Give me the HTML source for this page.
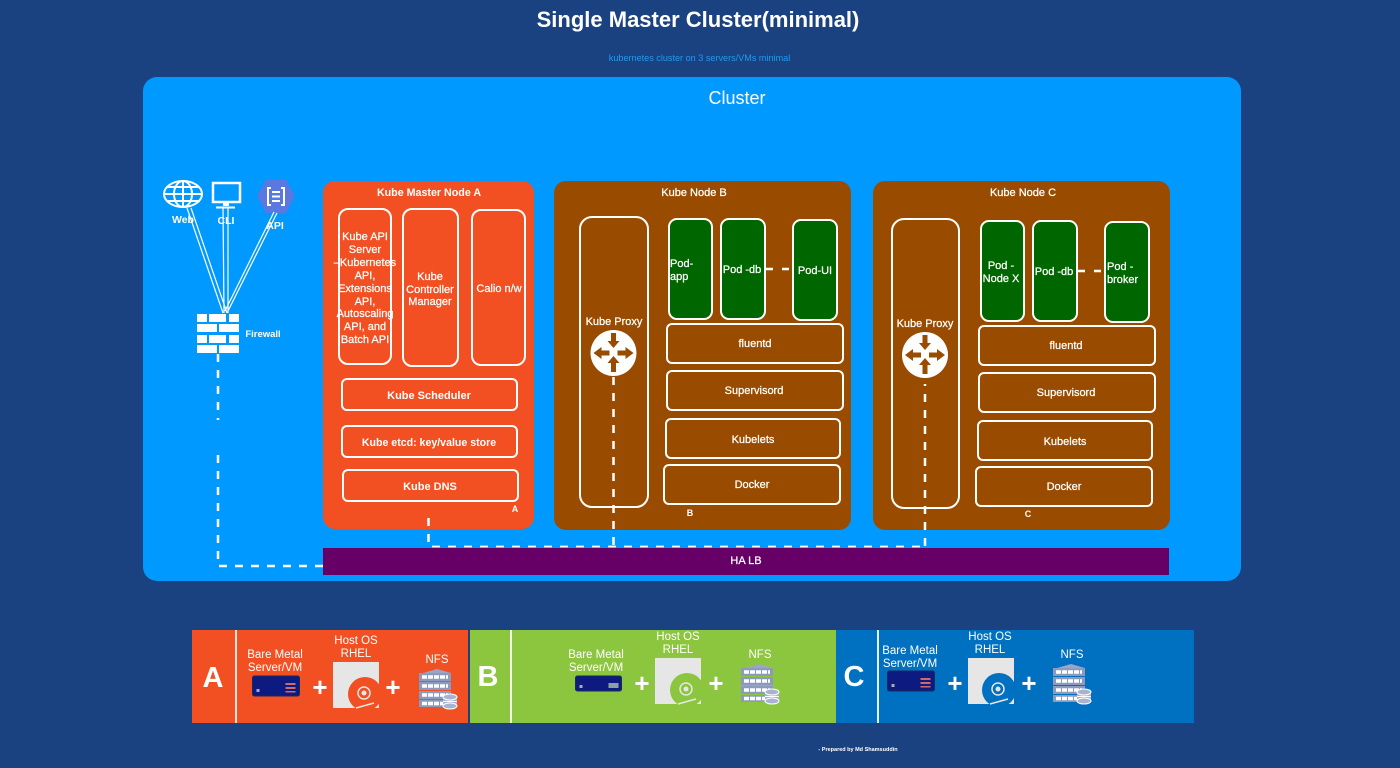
<!DOCTYPE html>
<html><head><meta charset="utf-8"><style>
html,body{margin:0;padding:0;background:#1a4280;width:1400px;height:768px;overflow:hidden}
svg{display:block}
text{font-family:"Liberation Sans",sans-serif;fill:#fff;text-anchor:middle}
.b{font-weight:bold}
.t{font-size:11px;stroke:#fff;stroke-width:.25}
.tb{font-size:11px;font-weight:bold}
.lg{font-size:11.5px}
.box{fill:none;stroke:#fff;stroke-width:2}
.dash{fill:none;stroke:#fff;stroke-width:2.500;stroke-dasharray:8 8}
.pd{fill:none;stroke:#fff;stroke-width:2.500;stroke-dasharray:7 9}
.thin{fill:none;stroke:#fff;stroke-width:1.800;stroke-dasharray:8 8}
.pod{fill:#006600;stroke:#fff;stroke-width:2}
</style></head><body>
<svg width="1400" height="768" viewBox="0 0 1400 768" xmlns="http://www.w3.org/2000/svg">
<defs>
<g id="router"><circle r="23" fill="#fff"/>
<g fill="#994c00"><path d="M-2.500 -20h5v8h3.500l-6 7l-6 -7h3.500z"/><path d="M-2.500 19h5v-9h3.500l-6 -7l-6 7h3.500z"/><path d="M-20 0l8 -6v3.500h8v5h-8v3.500z"/><path d="M20 0l-8 -6v3.500h-8v5h8v3.500z"/></g></g>
<g id="server"><rect x="0" y="0" width="47" height="20" rx="2" fill="#0d1a80" stroke="#1a2a5a"/><rect x="4" y="13" width="3" height="3" fill="#aab"/><rect x="33" y="7" width="10" height="2" fill="#d06a6a"/><rect x="33" y="11" width="10" height="2" fill="#d06a6a"/><rect x="33" y="15" width="10" height="1.500" fill="#d06a6a"/></g>
<g id="serverb"><rect x="0" y="0" width="46" height="15" rx="2" fill="#0d1a80" stroke="#1a2a5a"/><rect x="4" y="9" width="3" height="3" fill="#aab"/><rect x="33" y="7" width="10" height="5" fill="#8ca0a0"/></g>
<g id="nfs"><path d="M4 4l14 -4l14 4z" fill="#9aa6c4"/><rect x="0" y="4" width="32" height="8" fill="#8d9abb"/><rect x="0" y="13" width="32" height="8" fill="#8d9abb"/><rect x="0" y="22" width="32" height="8" fill="#8d9abb"/><rect x="0" y="31" width="32" height="7" fill="#8d9abb"/>
<g stroke="#fff" stroke-width="3.500" stroke-dasharray="5 1"><path d="M3 8h26M3 17h26M3 26h26M3 34.500h26"/></g>
<rect x="24" y="28" width="14" height="9" fill="#a8b3cf"/><ellipse cx="31" cy="28" rx="7" ry="3" fill="#a8b3cf" stroke="#fff"/><ellipse cx="31" cy="37" rx="7" ry="3" fill="#a8b3cf" stroke="#fff"/><path d="M24 32.500h14" stroke="#fff"/></g>
</defs>
<rect width="1400" height="768" fill="#1a4280"/>
<text x="698" y="27" font-size="22" class="b">Single Master Cluster(minimal)</text>
<text x="699.500" y="61" font-size="9.100" style="fill:#1e9bf0">kubernetes cluster on 3 servers/VMs minimal</text>
<rect x="143" y="77" width="1098" height="504" rx="14" fill="#0099ff"/>
<text x="737" y="104" font-size="18">Cluster</text>

<!-- icons -->
<g fill="none" stroke="#fff" stroke-width="2"><ellipse cx="183" cy="194" rx="19" ry="13"/><ellipse cx="183" cy="194" rx="9" ry="13"/><path d="M183 181v26M164 194h38M167 187h32M167 201h32"/></g>
<rect x="213" y="183" width="27" height="19" fill="none" stroke="#fff" stroke-width="2.500"/><path d="M226 203v3" stroke="#fff" stroke-width="6"/><path d="M216 207.500h19" stroke="#fff" stroke-width="2"/>
<path d="M257 196l9 -16h20l9 16l-9 17h-20z" fill="#5a78e0"/>
<path d="M271 188h-3v17h3M281 188h3v17h-3M272 192h8M272 196.500h8M272 201h8" fill="none" stroke="#fff" stroke-width="2"/>
<g stroke="#fff" stroke-width="1.200" fill="none">
<path d="M187 208L223 313M191 208L227 313M223 208L224 313M228 208V313M274 212L225 311M277 213L228 311"/>
</g>
<text x="183" y="223" font-size="10.500" class="b">Web</text>
<text x="226" y="224" font-size="10.500" class="b">CLI</text>
<text x="275" y="229" font-size="10.500" class="b">API</text>
<g fill="#fff"><rect x="197" y="314" width="10" height="8"/><rect x="209" y="314" width="17" height="8"/><rect x="229" y="314" width="10" height="8"/><rect x="197" y="324" width="20" height="8"/><rect x="219" y="324" width="20" height="8"/><rect x="197" y="335" width="10" height="8"/><rect x="209" y="335" width="17" height="8"/><rect x="229" y="335" width="10" height="8"/><rect x="197" y="345" width="20" height="8"/><rect x="219" y="345" width="20" height="8"/></g>
<text x="263" y="337" font-size="9.500" class="b">Firewall</text>

<!-- Master -->
<rect x="323" y="181" width="211" height="348" rx="12" fill="#f25022"/>
<text x="429" y="196" class="tb" style="font-size:10.700px">Kube Master Node A</text>
<rect class="box" x="339" y="209" width="52" height="155" rx="9"/>
<rect class="box" x="403" y="209" width="55" height="157" rx="9"/>
<rect class="box" x="472" y="210" width="53" height="155" rx="9"/>
<g class="t"><text x="365" y="240">Kube API</text><text x="365" y="253">Server</text><text x="365" y="266">–Kubernetes</text><text x="365" y="279">API,</text><text x="365" y="292">Extensions</text><text x="365" y="305">API,</text><text x="365" y="317">Autoscaling</text><text x="365" y="330">API, and</text><text x="365" y="343">Batch API</text>
<text x="430" y="280">Kube</text><text x="430" y="293">Controller</text><text x="430" y="305">Manager</text><text x="499" y="292">Calio n/w</text></g>
<rect class="box" x="342" y="379" width="175" height="31" rx="5"/><text x="429" y="399" class="tb">Kube Scheduler</text>
<rect class="box" x="342" y="426" width="175" height="31" rx="5"/><text x="429" y="446" class="tb" style="font-size:10.600px">Kube etcd: key/value store</text>
<rect class="box" x="343" y="470" width="175" height="31" rx="5"/><text x="430" y="490" class="tb">Kube DNS</text>
<text x="515" y="512" font-size="9" class="b">A</text>

<!-- Node B -->
<rect x="554" y="181" width="297" height="349" rx="12" fill="#994c00"/>
<text x="694" y="196" class="t">Kube Node B</text>
<rect class="box" x="580" y="217" width="68" height="290" rx="12"/>
<text x="614" y="325" class="t">Kube Proxy</text>
<use href="#router" x="613.500" y="353"/>
<rect class="pod" x="669" y="219" width="43" height="100" rx="8"/>
<rect class="pod" x="721" y="219" width="44" height="100" rx="8"/>
<rect class="pod" x="793" y="220" width="44" height="100" rx="8"/>
<path class="pd" d="M766 269h27"/>
<g class="t"><text x="670" y="267" style="text-anchor:start">Pod-</text><text x="670" y="280" style="text-anchor:start">app</text><text x="742" y="273">Pod -db</text><text x="815" y="274">Pod-UI</text></g>
<rect class="box" x="667" y="324" width="176" height="39" rx="5"/><text x="755" y="347" class="t">fluentd</text>
<rect class="box" x="667" y="371" width="176" height="39" rx="5"/><text x="754" y="394" class="t">Supervisord</text>
<rect class="box" x="666" y="419" width="174" height="39" rx="5"/><text x="753" y="443" class="t">Kubelets</text>
<rect class="box" x="664" y="465" width="176" height="39" rx="5"/><text x="752" y="488" class="t">Docker</text>
<text x="690" y="516" font-size="9" class="b">B</text>

<!-- Node C -->
<rect x="873" y="181" width="297" height="349" rx="12" fill="#994c00"/>
<text x="1023" y="196" class="t">Kube Node C</text>
<rect class="box" x="892" y="219" width="67" height="289" rx="12"/>
<text x="925" y="327" class="t">Kube Proxy</text>
<use href="#router" x="925" y="355"/>
<rect class="pod" x="981" y="221" width="43" height="100" rx="8"/>
<rect class="pod" x="1033" y="221" width="44" height="100" rx="8"/>
<rect class="pod" x="1105" y="222" width="44" height="100" rx="8"/>
<path class="pd" d="M1078 271h27"/>
<g class="t"><text x="1001" y="269">Pod -</text><text x="1001" y="282">Node X</text><text x="1054" y="275">Pod -db</text><text x="1107" y="270" style="text-anchor:start">Pod -</text><text x="1107" y="283" style="text-anchor:start">broker</text></g>
<rect class="box" x="979" y="326" width="176" height="39" rx="5"/><text x="1066" y="349" class="t">fluentd</text>
<rect class="box" x="979" y="373" width="176" height="39" rx="5"/><text x="1066" y="396" class="t">Supervisord</text>
<rect class="box" x="978" y="421" width="174" height="39" rx="5"/><text x="1065" y="445" class="t">Kubelets</text>
<rect class="box" x="976" y="467" width="176" height="39" rx="5"/><text x="1064" y="490" class="t">Docker</text>
<text x="1028" y="517" font-size="9" class="b">C</text>

<!-- HA LB -->
<rect x="323" y="548" width="846" height="27" fill="#660066"/>
<text x="746" y="564" class="t">HA LB</text>
<!-- connectors -->
<path class="dash" d="M218 354V420"/>
<path class="dash" d="M218 455V566H323"/>
<path class="dash" d="M428.500 518V545"/>
<path class="thin" d="M432 546.500H925"/>
<path class="dash" d="M925 546V384"/>
<path class="dash" d="M613.500 377V547"/>

<!-- legend -->
<rect x="192" y="630" width="276" height="93" fill="#f25022"/>
<rect x="470" y="630" width="366" height="93" fill="#8cc63f"/>
<rect x="836" y="630" width="358" height="93" fill="#0070c0"/>
<rect x="235" y="630" width="2" height="93" fill="#f5e5dc"/>
<rect x="510" y="630" width="2" height="93" fill="#f5f5e5"/>
<rect x="877" y="630" width="2" height="93" fill="#e5f0f8"/>
<text x="213" y="687" font-size="29" class="b">A</text>
<text x="488" y="686" font-size="29" class="b">B</text>
<text x="854" y="686" font-size="29" class="b">C</text>

<g class="lg"><text x="275" y="658">Bare Metal</text><text x="275" y="671">Server/VM</text><text x="356" y="644">Host OS</text><text x="356" y="657">RHEL</text><text x="437" y="663">NFS</text></g>
<use href="#server" x="252.500" y="676"/>
<rect x="333" y="662" width="46" height="46" fill="#e6e6e6"/><circle cx="365" cy="694" r="17" fill="#f25022"/><circle cx="364" cy="693" r="6" fill="none" stroke="#e6e6e6" stroke-width="1.500"/><circle cx="364" cy="693" r="2.500" fill="#e6e6e6"/><path d="M356 708l18 -5" stroke="#e6e6e6" stroke-width="1.500"/>
<text x="320" y="696" font-size="26" class="b">+</text><text x="393" y="696" font-size="26" class="b">+</text>
<use href="#nfs" x="419" y="669"/>

<g class="lg"><text x="596" y="658">Bare Metal</text><text x="596" y="671">Server/VM</text><text x="678" y="640">Host OS</text><text x="678" y="653">RHEL</text><text x="760" y="658">NFS</text></g>
<use href="#serverb" x="575.500" y="676"/>
<rect x="655" y="658" width="46" height="46" fill="#e6e6e6"/><circle cx="687" cy="690" r="17" fill="#8cc63f"/><circle cx="686" cy="689" r="6" fill="none" stroke="#e6e6e6" stroke-width="1.500"/><circle cx="686" cy="689" r="2.500" fill="#e6e6e6"/><path d="M678 704l18 -5" stroke="#e6e6e6" stroke-width="1.500"/>
<text x="642" y="692" font-size="26" class="b">+</text><text x="716" y="692" font-size="26" class="b">+</text>
<use href="#nfs" x="741" y="664"/>

<g class="lg"><text x="910" y="654">Bare Metal</text><text x="910" y="667">Server/VM</text><text x="990" y="640">Host OS</text><text x="990" y="653">RHEL</text><text x="1072" y="658">NFS</text></g>
<use href="#server" x="887.500" y="671"/>
<rect x="968" y="658" width="46" height="46" fill="#e6e6e6"/><circle cx="999" cy="690" r="17" fill="#0070c0"/><circle cx="998" cy="689" r="6" fill="none" stroke="#e6e6e6" stroke-width="1.500"/><circle cx="998" cy="689" r="2.500" fill="#e6e6e6"/><path d="M990 704l18 -5" stroke="#e6e6e6" stroke-width="1.500"/>
<text x="955" y="692" font-size="26" class="b">+</text><text x="1029" y="692" font-size="26" class="b">+</text>
<use href="#nfs" x="1053" y="664"/>

<text x="858" y="751" font-size="5.500" class="b">- Prepared by Md Shamsuddin</text>
</svg>
</body></html>
